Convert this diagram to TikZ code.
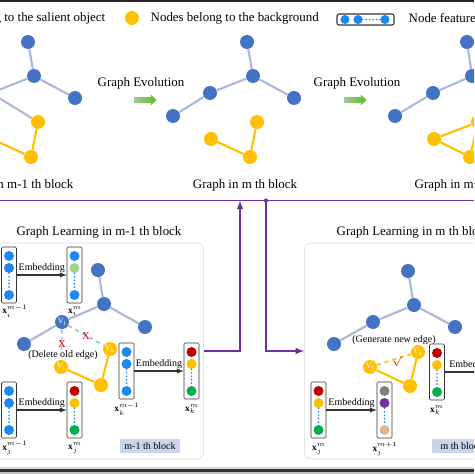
\documentclass[tikz,border=0pt]{standalone}
\usepackage{fontspec}
\setmainfont{Liberation Serif}
\usetikzlibrary{shapes.arrows}

\definecolor{nodeblue}{HTML}{4472C4}
\definecolor{nodeyellow}{HTML}{FFC000}
\definecolor{edgeblue}{HTML}{AAB9D8}
\definecolor{dashblue}{HTML}{9DC3E6}
\definecolor{featblue}{HTML}{1E88F0}
\definecolor{featred}{HTML}{C00000}
\definecolor{featgreen}{HTML}{00B050}
\definecolor{featlgreen}{HTML}{A9D18E}
\definecolor{featgray}{HTML}{808080}
\definecolor{featpurple}{HTML}{7030A0}
\definecolor{feattan}{HTML}{E0B48C}
\definecolor{flowpurple}{HTML}{7030A0}
\definecolor{tagblue}{HTML}{C8D5EA}
\definecolor{boxgray}{HTML}{D9D9D9}

% one feature column: name, x, top y, three colours
\newcommand{\featcol}[6]{%
  \node[featbox] (#1) at (#2,#3+28) {};
  \node[featdot,fill=#4] (#1a) at (#2,#3+9) {};
  \node[featdot,fill=#5] (#1b) at (#2,#3+21) {};
  \node[featdot,fill=#6] (#1c) at (#2,#3+48) {};
  \path[featdots] (#1b) -- (#1c);
}

\begin{document}
\begin{tikzpicture}[x=0.75pt,y=-0.75pt,font=\fontsize{9.7}{11.5}\selectfont]
        \tikzstyle{gnode}=[circle,minimum size=10.5pt,inner sep=0pt]
        \tikzstyle{bnode}=[gnode,fill=nodeblue]
        \tikzstyle{ynode}=[gnode,fill=nodeyellow]
        \tikzstyle{bedge}=[draw,edgeblue,line width=1.6pt]
        \tikzstyle{yedge}=[draw,nodeyellow,line width=1.6pt]
        \tikzstyle{dbedge}=[draw,dashblue,line width=1.3pt,dashed]
        \tikzstyle{dyedge}=[draw,nodeyellow,line width=1.3pt,dashed]
        \tikzstyle{featbox}=[rectangle,draw=black!80,fill=white,rounded corners=1pt,minimum width=11.25pt,minimum height=42pt,inner sep=0pt]
        \tikzstyle{featdot}=[circle,minimum size=7.5pt,inner sep=0pt]
        \tikzstyle{featdots}=[draw=featblue,line width=1.4pt,line cap=round,dash pattern=on 0pt off 2.6pt]
        \tikzstyle{vlab}=[font=\scriptsize,inner sep=0pt]
        \tikzstyle{emb}=[draw=black!80,thick,-latex]
        \tikzstyle{embtext}=[font=\fontsize{7.5}{9}\selectfont,inner sep=1pt]
        \tikzstyle{block}=[rectangle,draw=boxgray,fill=white,rounded corners=5pt,minimum width=157pt,minimum height=162pt]
        \tikzstyle{tag}=[rectangle,fill=tagblue,minimum width=45pt,minimum height=10.5pt,inner sep=1pt,font=\fontsize{7.5}{9}\selectfont]
        \tikzstyle{flow}=[draw=flowpurple,line width=1.2pt]
        \tikzstyle{evo}=[single arrow,minimum height=16.5pt,minimum width=8.5pt,single arrow head extend=2pt,inner xsep=0pt,inner ysep=1.9pt,left color=gray!70!green!60,right color=green!60!black!70!yellow!90]
        \tikzstyle{cross}=[text=red!80!black,font=\fontsize{8}{8}\selectfont,inner sep=0pt]

        \useasboundingbox (0,0) rectangle (474,474);
        \clip (0,0) rectangle (474,474);

        % frame
        \fill[black!85] (0,0) rectangle (474,2);
        \fill[black!15] (0,467) rectangle (474,468.5);
        \fill[black!80] (0,468.5) rectangle (474,472);
        \fill[black!25] (0,472) rectangle (474,474);

        % legend
        \node[anchor=east] (lbt) at (110,18) {Nodes belong to the salient object};
        \node[ynode] (lyc) at (132,18) {};
        \node[anchor=west] (lyt) at (146,18) {Nodes belong to the background};
        \node[rectangle,draw=black!80,thick,rounded corners=1.5pt,minimum width=42.75pt,minimum height=8.25pt] (lfb) at (365.5,19.5) {};
        \node[featdot,minimum size=6.8pt,fill=featblue] (lf1) at (345,19.5) {};
        \node[featdot,minimum size=6.8pt,fill=featblue] (lf2) at (358,19.5) {};
        \node[featdot,minimum size=6.8pt,fill=featblue] (lf3) at (385,19.5) {};
        \path[featdots] (lf2) -- (lf3);
        \node[anchor=west] (lft) at (404,18) {Node features};

        % graph in m-1 th block
        \begin{scope}
         \node [bnode] (at) at (28,42) {};
         \node [bnode] (ac) at (34,76) {};
         \node [bnode] (ar) at (75,98) {};
         \node [bnode] (ai) at (-9,93) {};
         \node [bnode] (al) at (-46,116) {};
         \node [ynode] (ak) at (38,122) {};
         \node [ynode] (aj) at (-8,139) {};
         \node [ynode] (ay) at (31,157) {};
         \path[bedge] (at) edge (ac);
         \path[bedge] (ac) edge (ar);
         \path[bedge] (ac) edge (ai);
         \path[bedge] (ai) edge (al);
         \path[bedge] (ai) edge (ak);
         \path[bedge] (ai) edge (aj);
         \path[yedge] (aj) edge (ay);
         \path[yedge] (ak) edge (ay);
         \node[anchor=east] (gb1) at (78,185) {Graph in m-1 th block};
        \end{scope}

        \node (ge1) at (141,83) {Graph Evolution};
        \node[evo] (ev1) at (144,100) {};

        % graph in m th block
        \begin{scope}
         \node [bnode] (bt) at (247,42) {};
         \node [bnode] (bc) at (253,76) {};
         \node [bnode] (br) at (294,98) {};
         \node [bnode] (bi) at (210,93) {};
         \node [bnode] (bl) at (173,116) {};
         \node [ynode] (bk) at (257,122) {};
         \node [ynode] (bj) at (211,139) {};
         \node [ynode] (by) at (250,157) {};
         \path[bedge] (bt) edge (bc);
         \path[bedge] (bc) edge (br);
         \path[bedge] (bc) edge (bi);
         \path[bedge] (bi) edge (bl);
         \path[yedge] (bj) edge (by);
         \path[yedge] (bk) edge (by);
         \node (gb2) at (245,185) {Graph in m th block};
        \end{scope}

        \node (ge2) at (357,83) {Graph Evolution};
        \node[evo] (ev2) at (354,100) {};

        % graph in m+1 th block
        \begin{scope}
         \node [bnode] (ct) at (467,42) {};
         \node [bnode] (cc) at (472,76) {};
         \node [bnode] (cr) at (514,98) {};
         \node [bnode] (ci) at (433,93) {};
         \node [bnode] (cl) at (395,116) {};
         \node [ynode] (ck) at (478,122) {};
         \node [ynode] (cj) at (434,139) {};
         \node [ynode] (cy) at (470,157) {};
         \path[bedge] (ct) edge (cc);
         \path[bedge] (cc) edge (cr);
         \path[bedge] (cc) edge (ci);
         \path[bedge] (ci) edge (cl);
         \path[yedge] (cj) edge (cy);
         \path[yedge] (ck) edge (cy);
         \path[yedge] (cj) edge (ck);
         \node[anchor=west] (gb3) at (410,185) {Graph in m+1 th block};
        \end{scope}

        % learning blocks
        \node[block] (blkA) at (99,351) {};
        \node[block] (blkB) at (409,351) {};
        \node (gl1) at (99,232) {Graph Learning in m-1 th block};
        \node[anchor=west] (gl2) at (332,232) {Graph Learning in m th block};

        % connections between the parts
        \coordinate (ll) at (0,200.5);
        \coordinate (lr) at (474,200.5);
        \coordinate (ja) at (240,200.5);
        \coordinate (jb) at (266,200.5);
        \path[flow] (ll) -- (lr);
        \draw[flow,-latex] (blkA.east) -| (ja);
        \draw[flow,-latex] (jb) |- (blkB.west);
        \fill[flowpurple] (jb) circle (1.6pt);

        % learning in m-1 th block
        \begin{scope}
         \node [bnode] (dt) at (98,270) {};
         \node [bnode] (dc) at (104,304) {};
         \node [bnode] (dr) at (145,327) {};
         \node [bnode] (di) at (62,322) {\color{white}\fontsize{6}{6}\selectfont V\textsubscript{i}};
         \node [bnode] (dl) at (24,344) {};
         \node [ynode] (dk) at (110,349) {\color{white}\fontsize{6}{6}\selectfont V\textsubscript{k}};
         \node [ynode] (dj) at (61,367) {\color{white}\fontsize{6}{6}\selectfont V\textsubscript{j}};
         \node [ynode] (dy) at (101,385) {};
         \path[bedge] (dt) edge (dc);
         \path[bedge] (dc) edge (dr);
         \path[bedge] (dc) edge (di);
         \path[bedge] (di) edge (dl);
         \path[dbedge] (di) edge (dk);
         \path[dbedge] (di) edge (dj);
         \path[yedge] (dj) edge (dy);
         \path[yedge] (dk) edge (dy);
         \node[cross] (xa) at (86,336) {X};
         \node[cross] (xb) at (62,344) {X};
         \node[embtext,fill=white,inner sep=0.5pt] (del) at (63,355) {(Delete old edge)};

         \featcol{xia}{9}{247}{featblue}{featblue}{featblue}
         \featcol{xib}{74.5}{247}{featblue}{featlgreen}{featblue}
         \featcol{xja}{9}{382}{featblue}{featblue}{featblue}
         \featcol{xjb}{74.5}{382}{featred}{nodeyellow}{featgreen}
         \featcol{xka}{126.5}{343}{featblue}{featblue}{featblue}
         \featcol{xkb}{191.5}{343}{featred}{nodeyellow}{featgreen}
         \path[emb] (xia) -- (xib) node[embtext,midway,above] (ea) {Embedding};
         \path[emb] (xja) -- (xjb) node[embtext,midway,above] (eb) {Embedding};
         \path[emb] (xka) -- (xkb) node[embtext,midway,above] (ec) {Embedding};
         \node[vlab,anchor=west] (lxia) at (2,311) {$\mathbf{x}_i^{m-1}$};
         \node[vlab] (lxib) at (75,311) {$\mathbf{x}_i^{m}$};
         \node[vlab,anchor=west] (lxja) at (2,448) {$\mathbf{x}_j^{m-1}$};
         \node[vlab] (lxjb) at (75,448) {$\mathbf{x}_j^{m}$};
         \node[vlab] (lxka) at (127,409) {$\mathbf{x}_k^{m-1}$};
         \node[vlab] (lxkb) at (192,409) {$\mathbf{x}_k^{m}$};
         \node[tag] (tag1) at (150,446) {m-1 th block};
        \end{scope}

        % learning in m th block
        \begin{scope}
         \node [bnode] (et) at (408,271) {};
         \node [bnode] (ec) at (414,305) {};
         \node [bnode] (er) at (455,327) {};
         \node [bnode] (ei) at (373,322) {};
         \node [bnode] (el) at (334,344) {};
         \node [ynode] (ek) at (418,352) {\color{white}\fontsize{6}{6}\selectfont V\textsubscript{k}};
         \node [ynode] (ej) at (370,367) {\color{white}\fontsize{6}{6}\selectfont V\textsubscript{j}};
         \node [ynode] (ey) at (410,386) {};
         \path[bedge] (et) edge (ec);
         \path[bedge] (ec) edge (er);
         \path[bedge] (ec) edge (ei);
         \path[bedge] (ei) edge (el);
         \path[dyedge] (ej) edge (ek);
         \path[yedge] (ej) edge (ey);
         \path[yedge] (ek) edge (ey);
         \node[cross] (ck1) at (397,361) {$\surd$};
         \node[embtext] (gen) at (394,340) {(Generate new edge)};

         \featcol{xkc}{437}{344}{featred}{nodeyellow}{featgreen}
         \featcol{xjc}{318.5}{382}{featred}{nodeyellow}{featgreen}
         \featcol{xjd}{384.5}{382}{featgray}{featpurple}{feattan}
         \coordinate (kend) at (500,372);
         \path[emb] (xjc) -- (xjd) node[embtext,midway,above] (ed) {Embedding};
         \path[emb] (xkc) -- (kend) node[embtext,midway,above] (ee) {Embedding};
         \node[vlab] (lxkc) at (437,410) {$\mathbf{x}_k^{m}$};
         \node[vlab] (lxjc) at (319,449) {$\mathbf{x}_j^{m}$};
         \node[vlab] (lxjd) at (385,449) {$\mathbf{x}_j^{m+1}$};
         \node[tag] (tag2) at (462,446) {m th block};
        \end{scope}
\end{tikzpicture}
\end{document}
